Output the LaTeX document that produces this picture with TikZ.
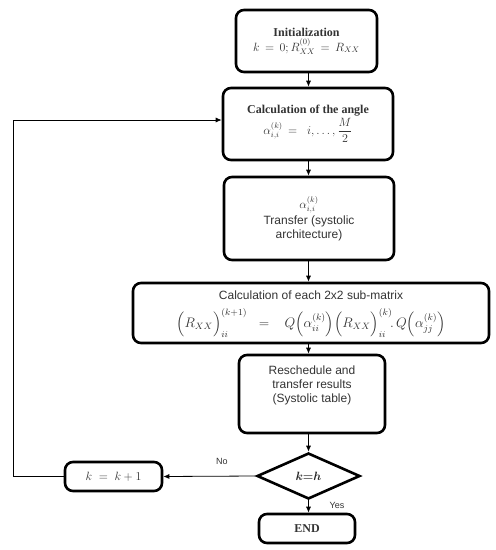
\documentclass[tikz,border=0pt]{standalone}
\usepackage{amsmath,amssymb,graphicx}
\usepackage{fontspec}
\setmainfont{Liberation Serif}
\setsansfont{Liberation Sans}
\usetikzlibrary{shapes.geometric,arrows.meta}
\begin{document}
\begin{tikzpicture}[x=1pt,y=-1pt,
  box/.style={draw=black,line width=2.6pt,rounded corners=8pt,align=center,inner sep=2pt,text=black!80,font=\fontsize{12}{14}\selectfont},
  sbox/.style={box,font=\sffamily\fontsize{12}{14}\selectfont},
  dia/.style={draw=black,line width=2.6pt,diamond,inner sep=0pt,text=black!85,font=\fontsize{12}{14}\selectfont},
  arr/.style={line width=0.8pt,-{Latex[length=6pt,width=5pt]}},
  lbl/.style={font=\sffamily\fontsize{9}{10}\selectfont,text=black!80}]
\useasboundingbox (0,0) rectangle (496,550);
\node[box,minimum width=141pt,minimum height=62pt] (b1) at (306.5,41)
  {\textbf{Initialization}\\[1pt] $k\,=\,0;R_{XX}^{(0)}\,=\,R_{XX}$};
\node[box,minimum width=170pt,minimum height=72pt] (b2) at (308,124)
  {\textbf{Calculation of the angle}\\[1pt] $\alpha_{i,i}^{(k)}\,=\;\;i,\ldots,\dfrac{M}{2}$};
\node[sbox,minimum width=170pt,minimum height=83pt] (b3) at (309,218.5)
  {$\alpha_{i,i}^{(k)}$\\[2pt] Transfer (systolic\\ architecture)};
\node[sbox,minimum width=356pt,minimum height=60pt] (b4) at (311,313) {};
\node[font=\sffamily\fontsize{12}{14}\selectfont,text=black!80,inner sep=1pt] (b4t) at (311,295) {Calculation of each 2x2 sub-matrix};
\node[text=black!80,inner sep=1pt] (b4f) at (311,323)
  {\fontsize{12}{14}\selectfont\scalebox{1.15}{$\Bigl(R_{XX}\Bigr)_{ii}^{(k+1)}\;\;=\;\;\;Q\Bigl(\alpha_{ii}^{(k)}\Bigr)\Bigl(R_{XX}\Bigr)_{ii}^{(k)}\!.\,Q\Bigl(\alpha_{jj}^{(k)}\Bigr)$}};
\node[sbox,minimum width=146pt,minimum height=78pt] (b5) at (312,394)
  {Reschedule and\\ transfer results\\ (Systolic table)\\[6pt]};
\node[dia,minimum width=103pt,minimum height=46pt] (d) at (308.5,476) {$\boldsymbol{k{=}h}$};
\node[box,minimum width=96pt,minimum height=29pt] (e) at (307,528.5) {\textbf{END}};
\node[box,minimum width=97pt,minimum height=29pt] (kb) at (113.5,476.5) {$k\;=\;k+1$};
\coordinate (lp) at (13,120);
\draw[arr] (d.north |- b1.south) -- (d.north |- b2.north);
\draw[arr] (d.north |- b2.south) -- (d.north |- b3.north);
\draw[arr] (d.north |- b3.south) -- (d.north |- b4.north);
\draw[arr] (d.north |- b4.south) -- (d.north |- b5.north);
\draw[arr] (d.north |- b5.south) -- (d.north);
\draw[arr] (d.south) -- (d.south |- e.north);
\draw[arr] (d.west) -- (kb.east);
\draw[arr] (kb.west) -| (lp) -- (b2.west |- lp);
\node[lbl] (no) at (222,461) {No};
\node[lbl] (yes) at (337,505) {Yes};
\end{tikzpicture}
\end{document}
